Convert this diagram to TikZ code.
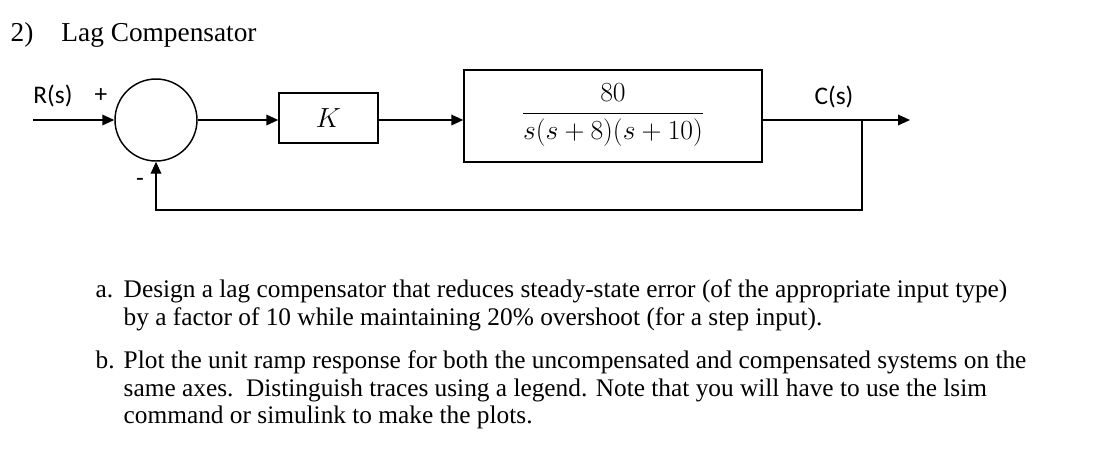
\documentclass[tikz,border=0pt]{standalone}
\usepackage{fontspec}
\setmainfont{Liberation Serif}
\newfontfamily\carlitofont{Carlito}
\usetikzlibrary{arrows.meta}
\begin{document}
\begin{tikzpicture}[x=0.75pt,y=-0.75pt,
  line width=1.1pt,
  arr/.style={-{Triangle[length=9pt,width=8pt]}},
  lbl/.style={font=\carlitofont\fontsize{19pt}{22pt}\selectfont,inner sep=0pt},
  body/.style={anchor=base west,inner sep=0pt,font=\fontsize{19pt}{22pt}\selectfont}]
\useasboundingbox (0,0) rectangle (1106,461);
\node[body,font=\fontsize{20.5pt}{24pt}\selectfont] (title) at (10,41) {2)\hspace{21pt}Lag Compensator};
\coordinate (in) at (33,120);
\node[draw,circle,line width=1.1pt,minimum size=82*0.75pt,inner sep=0pt] (sum) at (156,120) {};
\node[draw,line width=1.1pt,minimum width=99*0.75pt,minimum height=50*0.75pt,inner sep=0pt,font=\fontsize{21pt}{24pt}\selectfont] (K) at (328.5,118) {$K$};
\node[draw,line width=1.1pt,minimum width=298*0.75pt,minimum height=92*0.75pt,inner sep=0pt] (G) at (613,116) {};
\node[inner sep=0pt,font=\fontsize{22pt}{26pt}\selectfont] (frac) at (613,115) {$\displaystyle\frac{80}{s(s+8)(s+10)}$};
\coordinate (out) at (910,120);
\coordinate (br) at (862,120);
\coordinate (b1) at (862,210);
\coordinate (b2) at (156,210);
\node[lbl] (R) at (53,96) {R(s)};
\node[lbl] (plus) at (101,96) {+};
\node[lbl] (minus) at (140,182) {-};
\node[lbl] (C) at (834,97) {C(s)};
\draw[arr] (in) -- (sum.west);
\draw[arr] (sum.east) -- (K.west |- sum.east);
\draw[arr] (K.east |- sum.east) -- (G.west |- sum.east);
\draw[arr] (G.east |- out) -- (out);
\draw[arr] (br) -- (b1) -- (b2) -- (sum.south);
\node[body] (a) at (95,297) {a.};
\node[body] (a1) at (123,297) {Design a lag compensator that reduces steady-state error (of the appropriate input type)};
\node[body] (a2) at (123,325) {by a factor of 10 while maintaining 20\% overshoot (for a step input).};
\node[body] (b) at (95,368) {b.};
\node[body] (b1t) at (123,368) {Plot the unit ramp response for both the uncompensated and compensated systems on the};
\node[body] (b2t) at (123,396) {same axes.\ \ Distinguish traces using a legend. Note that you will have to use the lsim};
\node[body] (b3t) at (123,423) {command or simulink to make the plots.};
\end{tikzpicture}
\end{document}
